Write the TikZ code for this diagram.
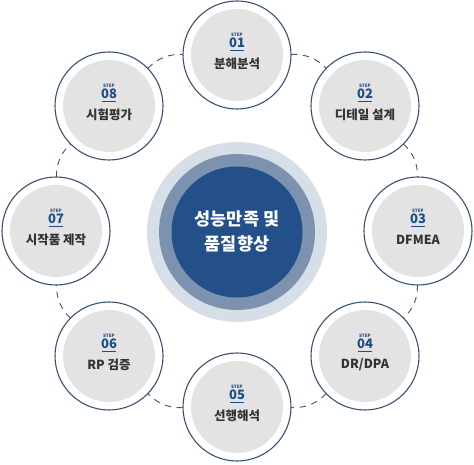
\documentclass[tikz,border=0pt]{standalone}
\usepackage{fontspec}
\setmainfont{Noto Sans CJK KR}
\definecolor{ringc}{HTML}{3B5272}
\definecolor{numc}{HTML}{1E4C85}
\definecolor{greyc}{HTML}{E3E3E3}
\definecolor{namec}{HTML}{333333}
\definecolor{darkc}{HTML}{24508A}
\definecolor{midc}{HTML}{7D92AF}
\definecolor{lightc}{HTML}{D6DEE8}
\definecolor{dashc}{HTML}{44546B}
\newcommand\mkstep[4]{%
  \node[ring] (#1) at (#2) {};
  \node[disc] (#1d) at (#1) {};
  \node[steplbl] (#1s) at ([yshift=20.5pt]#1.center) {STEP};
  \node[numlbl] (#1n) at ([yshift=12pt]#1.center) {#3};
  \draw[numc,line width=0.9pt] ([xshift=-7pt,yshift=5pt]#1.center) -- ([xshift=7pt,yshift=5pt]#1.center);
  \node[namelbl] (#1t) at ([yshift=-8.5pt]#1.center) {#4};
}
\begin{document}
\begin{tikzpicture}[x=1pt,y=-1pt,
  ring/.style={circle,draw=ringc,line width=1.1pt,fill=white,minimum size=108pt,inner sep=0pt,outer sep=0pt},
  disc/.style={circle,fill=greyc,minimum size=92pt,inner sep=0pt},
  steplbl/.style={font=\bfseries\fontsize{4.5}{5}\selectfont,text=numc,inner sep=0pt},
  numlbl/.style={font=\bfseries\fontsize{13}{14}\selectfont,text=numc,inner sep=0pt},
  namelbl/.style={font=\bfseries\fontsize{12.5}{14}\selectfont,text=namec,inner sep=0pt},
  link/.style={dash pattern=on 6.5pt off 5.5pt,draw=dashc,line width=0.9pt}]
\useasboundingbox (0,0) rectangle (474,465);
% center
\node[circle,fill=lightc,minimum size=180pt,inner sep=0pt] (c0) at (237,232) {};
\node[circle,fill=midc,minimum size=156pt,inner sep=0pt] (c1) at (c0) {};
\node[circle,fill=darkc,minimum size=131pt,inner sep=0pt] (c2) at (c0) {};
\node[font=\bfseries\fontsize{17.5}{25}\selectfont,text=white,align=center] (ct) at ([yshift=1pt]c0.center) {성능만족 및\\품질향상};
% steps
\mkstep{s1}{237,55}{01}{분해분석}
\mkstep{s2}{365,106}{02}{디테일 설계}
\mkstep{s3}{418,231}{03}{DFMEA}
\mkstep{s4}{365,356}{04}{DR/DPA}
\mkstep{s5}{237,407}{05}{선행해석}
\mkstep{s6}{109,356}{06}{RP 검증}
\mkstep{s7}{56,231}{07}{시작품 제작}
\mkstep{s8}{109,106}{08}{시험평가}
% links
\draw[link] (s1) to[bend left=22.5] (s2);
\draw[link] (s2) to[bend left=22.5] (s3);
\draw[link] (s3) to[bend left=22.5] (s4);
\draw[link] (s4) to[bend left=22.5] (s5);
\draw[link] (s5) to[bend left=22.5] (s6);
\draw[link] (s6) to[bend left=22.5] (s7);
\draw[link] (s7) to[bend left=22.5] (s8);
\draw[link] (s8) to[bend left=22.5] (s1);
\end{tikzpicture}
\end{document}
